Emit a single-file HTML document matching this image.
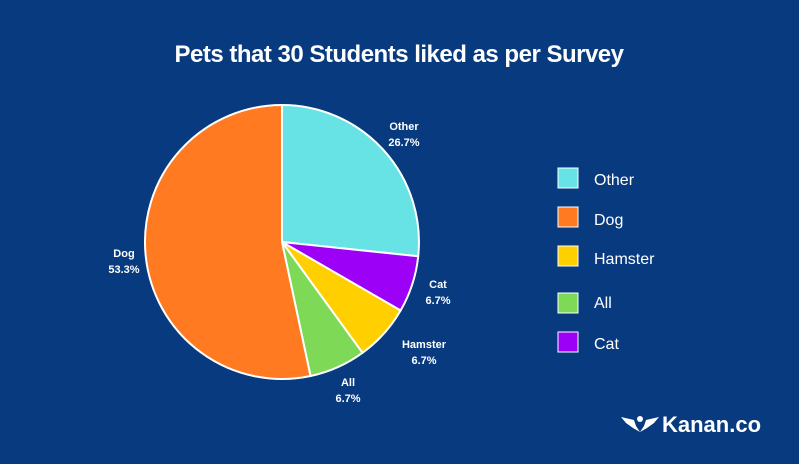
<!DOCTYPE html>
<html><head><meta charset="utf-8"><style>
body{margin:0;width:799px;height:459px;background:#083a7f;font-family:"Liberation Sans",sans-serif;overflow:hidden}
</style></head><body>
<svg width="799" height="459" xmlns="http://www.w3.org/2000/svg" font-family="Liberation Sans, sans-serif">
<rect width="799" height="459" fill="#083a7f"/>
<text x="399" y="62" fill="#fff" font-size="24" font-weight="bold" text-anchor="middle" letter-spacing="-0.5">Pets that 30 Students liked as per Survey</text>
<g stroke="#fff" stroke-width="2" stroke-linejoin="round">
<path d="M282,242 L282,105 A137,137 0 0 1 418.2,256.3 Z" fill="#67e3e6"/>
<path d="M282,242 L418.2,256.3 A137,137 0 0 1 400.6,310.5 Z" fill="#9d00f7"/>
<path d="M282,242 L400.6,310.5 A137,137 0 0 1 362.5,352.8 Z" fill="#ffcf00"/>
<path d="M282,242 L362.5,352.8 A137,137 0 0 1 310.5,376 Z" fill="#7ed957"/>
<path d="M282,242 L310.5,376 A137,137 0 1 1 282,105 Z" fill="#ff7a21"/>
</g>
<g fill="#fff" font-size="11" font-weight="bold" text-anchor="middle">
<text x="404" y="130">Other</text><text x="404" y="146">26.7%</text>
<text x="438" y="288">Cat</text><text x="438" y="304">6.7%</text>
<text x="424" y="348">Hamster</text><text x="424" y="364">6.7%</text>
<text x="348" y="386">All</text><text x="348" y="402">6.7%</text>
<text x="124" y="257">Dog</text><text x="124" y="273">53.3%</text>
</g>
<g stroke="#fff" stroke-width="1">
<rect x="558" y="168" width="20" height="20" fill="#67e3e6"/>
<rect x="558" y="207" width="20" height="20" fill="#ff7a21"/>
<rect x="558" y="246" width="20" height="20" fill="#ffcf00"/>
<rect x="558" y="293" width="20" height="20" fill="#7ed957"/>
<rect x="558" y="332" width="20" height="20" fill="#9d00f7"/>
</g>
<g fill="#fff" font-size="16">
<text x="594" y="185">Other</text>
<text x="594" y="225">Dog</text>
<text x="594" y="264">Hamster</text>
<text x="594" y="308">All</text>
<text x="594" y="349">Cat</text>
</g>
<g fill="#fff">
<path d="M621,417 L634,420 L636,426 L640,432 L633,428 L626,423 Z"/>
<path d="M659,417 L646,420 L644,426 L640,432 L647,428 L654,423 Z"/>
<circle cx="640" cy="419" r="3"/>
<text x="662" y="432" font-size="22" font-weight="bold">Kanan.co</text>
</g>
</svg>
</body></html>
